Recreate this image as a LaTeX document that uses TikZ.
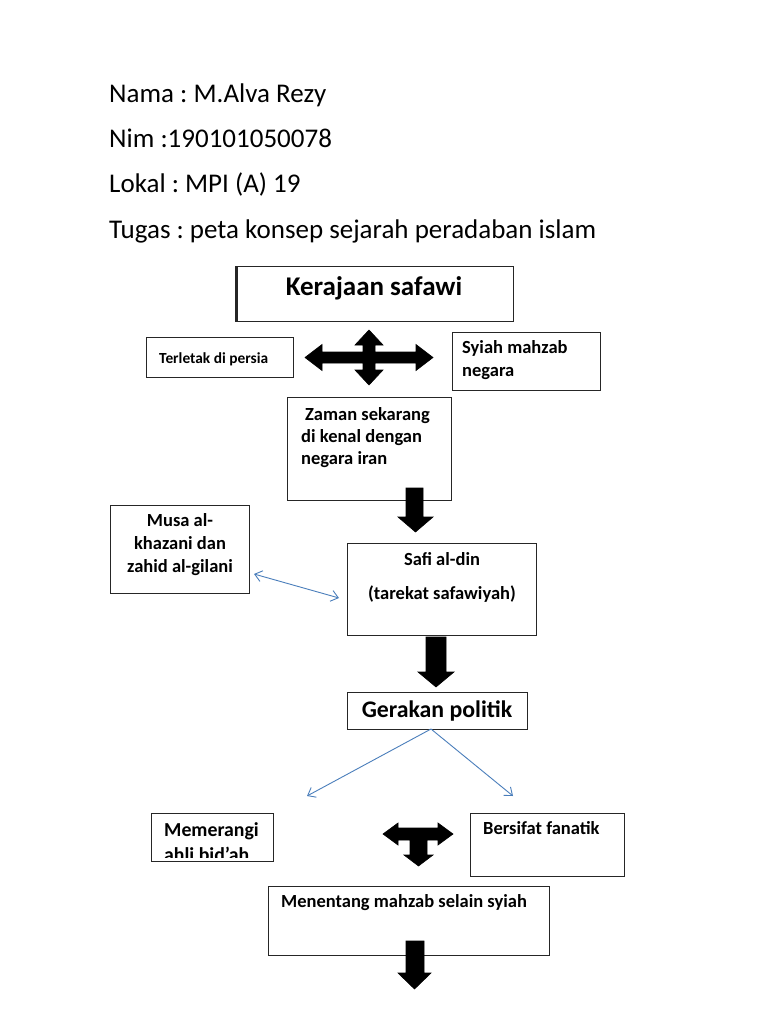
\documentclass[tikz,border=0pt]{standalone}
\usepackage{fontspec}
\setmainfont{Carlito}
\usetikzlibrary{arrows.meta}
\definecolor{arrowblue}{HTML}{4A7EBB}
\frenchspacing
\begin{document}
\begin{tikzpicture}[x=1pt,y=-1pt,
  box/.style={draw=black!85, line width=1.2pt, inner sep=0pt, anchor=north west},
  head/.style={inner sep=0pt, anchor=base west, font=\fontsize{27}{30}\selectfont},
  txt/.style={inner sep=0pt, anchor=base west, font=\bfseries\fontsize{18.5}{22}\selectfont},
  ctxt/.style={txt, anchor=base},
  blockarrow/.style={fill=black, draw=black, line width=0.6pt, line join=miter},
  bluearrow/.style={draw=arrowblue, line width=0.9pt, arrows={-Straight Barb[length=7pt,width=11pt]}}
]
\fill[white] (0,0) rectangle (768,1024);
\useasboundingbox (0,0) rectangle (768,1024);

% header
\node[head] (h1) at (109,103) {Nama : M.Alva Rezy};
\node[head] (h2) at (109,148) {Nim :190101050078};
\node[head] (h3) at (109,193) {Lokal : MPI (A) 19};
\node[head] (h4) at (109,238) {Tugas : peta konsep sejarah peradaban islam};

% boxes
\node[box, minimum width=278pt, minimum height=55pt] (kb) at (235,266) {};
\draw[black!85, line width=1.2pt] ([xshift=2pt]kb.north west) -- ([xshift=2pt]kb.south west);
\node[box, minimum width=147pt, minimum height=40pt] (tb) at (146,337) {};
\node[box, minimum width=148pt, minimum height=58pt] (sb) at (452,332) {};
\node[box, minimum width=164pt, minimum height=103pt] (zb) at (287,397) {};
\node[box, minimum width=139pt, minimum height=88pt] (mb) at (110,505) {};
\node[box, minimum width=189pt, minimum height=92pt] (fb) at (347,543) {};
\node[box, minimum width=180pt, minimum height=37pt] (gb) at (347,692) {};
\node[box, minimum width=122pt, minimum height=48pt] (pb) at (151,813) {};
\node[box, minimum width=154pt, minimum height=63pt] (bb) at (470,813) {};
\node[box, minimum width=281pt, minimum height=69pt] (nb) at (268,886) {};

% texts
\node[ctxt, font=\bfseries\fontsize{27}{30}\selectfont] (t1) at (374,295) {Kerajaan safawi};
\node[txt, font=\bfseries\fontsize{15.4}{18}\selectfont] (t2) at (159,363) {Terletak di persia};
\node[txt] (t3a) at (462,353) {Syiah mahzab};
\node[txt] (t3b) at (462,376) {negara};
\node[txt] (t4a) at (305,420) {Zaman sekarang};
\node[txt] (t4b) at (301,442) {di kenal dengan};
\node[txt] (t4c) at (301,464) {negara iran};
\node[ctxt] (t5a) at (180,526) {Musa al-};
\node[ctxt] (t5b) at (180,549) {khazani dan};
\node[ctxt] (t5c) at (180,572) {zahid al-gilani};
\node[ctxt] (t6a) at (442,565) {Safi al-din};
\node[ctxt] (t6b) at (442,599) {(tarekat safawiyah)};
\node[ctxt, font=\bfseries\fontsize{23.8}{26}\selectfont] (t7) at (437,717) {Gerakan politik};
\begin{scope}
  \clip (151,813) rectangle (273,857);
  \node[txt, font=\bfseries\fontsize{19.8}{24}\selectfont] (t8a) at (164,836) {Memerangi};
  \node[txt, font=\bfseries\fontsize{19.8}{24}\selectfont] (t8b) at (164,861) {ahli bid’ah};
\end{scope}
\node[txt] (t9) at (483,834) {Bersifat fanatik};
\node[txt] (t10) at (281,907) {Menentang mahzab selain syiah};

% four-way block arrow
\fill[blockarrow] (305,357.5) -- (322,344.5) -- (322,352) -- (363,352) -- (363,345) -- (355,345)
  -- (369,330) -- (383,345) -- (375,345) -- (375,352) -- (416,352) -- (416,344.5)
  -- (433,357.5) -- (416,370.5) -- (416,363) -- (375,363) -- (375,370) -- (383,370)
  -- (369,385) -- (355,370) -- (363,370) -- (363,363) -- (322,363) -- (322,370.5) -- cycle;

% down block arrows
\fill[blockarrow] (406,488) -- (423,488) -- (423,517) -- (433,517) -- (415.5,532)
  -- (398,517) -- (406,517) -- cycle;
\fill[blockarrow] (426,637) -- (446,637) -- (446,672) -- (454,672) -- (436,687)
  -- (418,672) -- (426,672) -- cycle;
\fill[blockarrow] (406,941) -- (424,941) -- (424,973) -- (431,973) -- (414.5,989)
  -- (398,973) -- (406,973) -- cycle;

% T-shaped block arrow
\fill[blockarrow] (383,834) -- (398,823) -- (398,828) -- (438,828) -- (438,823) -- (453,834)
  -- (438,845) -- (438,840) -- (427,840) -- (427,855) -- (433,855) -- (418.5,866)
  -- (404,855) -- (410,855) -- (410,840) -- (398,840) -- (398,845) -- cycle;

% blue connectors
\coordinate (a1) at (254,574);
\coordinate (a2) at (339,598);
\draw[bluearrow, arrows={Straight Barb[length=7pt,width=11pt]-Straight Barb[length=7pt,width=11pt]}] (a1) -- (a2);
\coordinate (g0) at (431,729);
\coordinate (g1) at (307,796);
\coordinate (g2) at (513,796);
\draw[bluearrow] (g0) -- (g1);
\draw[bluearrow] (g0) -- (g2);
\end{tikzpicture}
\end{document}
